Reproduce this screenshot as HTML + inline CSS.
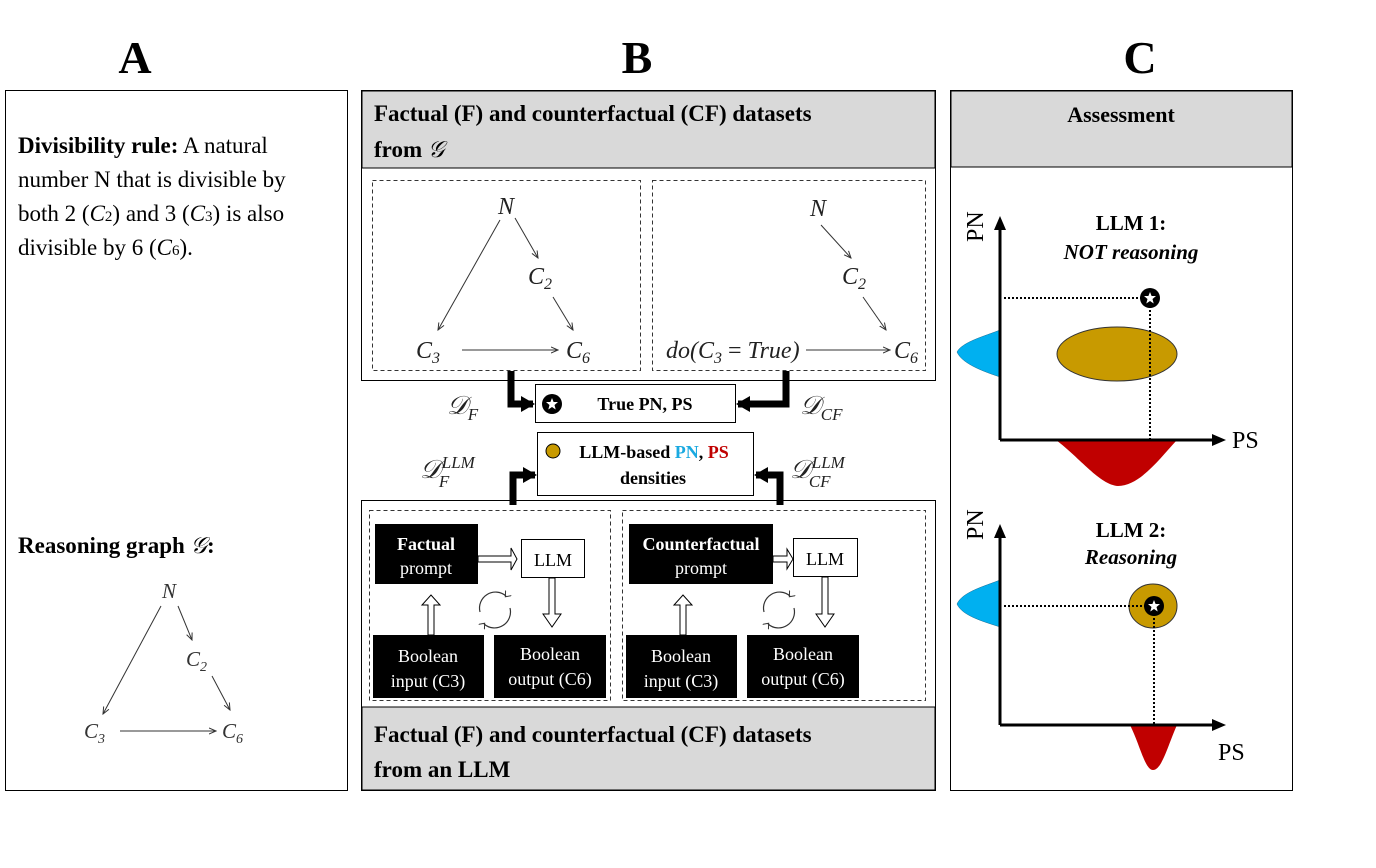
<!DOCTYPE html>
<html><head><meta charset="utf-8"><style>
body{margin:0;background:#fff}
svg text{font-family:"Liberation Serif",serif}
</style></head><body>
<svg width="1376" height="863" viewBox="0 0 1376 863" xmlns="http://www.w3.org/2000/svg">
<defs>
<marker id="a" markerWidth="8" markerHeight="8" refX="7" refY="4" orient="auto" markerUnits="userSpaceOnUse"><path d="M0,1 L7,4 L0,7" fill="none" stroke="#333" stroke-width="1"/></marker>
<marker id="b" markerWidth="16" markerHeight="16" refX="12" refY="8" orient="auto" markerUnits="userSpaceOnUse"><path d="M0,0 L14,8 L0,16 z" fill="#000"/></marker>
<marker id="c" markerWidth="8" markerHeight="8" refX="4" refY="4" orient="auto" markerUnits="userSpaceOnUse"><path d="M0,0 L4,5 L8,0" fill="none" stroke="#333" stroke-width="1"/></marker>
<g id="star"><circle r="10" fill="#000"/><polygon points="0,-6 1.6,-2 6,-2 2.5,1 3.7,5.5 0,3 -3.7,5.5 -2.5,1 -6,-2 -1.6,-2" fill="#fff"/></g>
</defs>
<g font-weight="bold" font-size="46" text-anchor="middle">
<text x="135" y="73">A</text><text x="637" y="73">B</text><text x="1140" y="73">C</text></g>
<!-- Panel A -->
<rect x="5.5" y="90.5" width="342" height="700" fill="none" stroke="#000"/>
<g font-size="23">
<text x="18" y="153"><tspan font-weight="bold">Divisibility rule:</tspan> A natural</text>
<text x="18" y="187">number N that is divisible by</text>
<text x="18" y="221">both 2 (<tspan font-style="italic">C</tspan><tspan font-size="15">2</tspan>) and 3 (<tspan font-style="italic">C</tspan><tspan font-size="15">3</tspan>) is also</text>
<text x="18" y="255">divisible by 6 (<tspan font-style="italic">C</tspan><tspan font-size="15">6</tspan>).</text>
<text x="18" y="553" font-weight="bold">Reasoning graph <tspan font-style="italic" font-weight="normal">𝒢</tspan>:</text>
</g>
<g font-size="21" font-style="italic" fill="#333">
<text x="162" y="598">N</text>
<text x="186" y="666">C<tspan font-size="14" dy="5">2</tspan></text>
<text x="84" y="738">C<tspan font-size="14" dy="5">3</tspan></text>
<text x="222" y="738">C<tspan font-size="14" dy="5">6</tspan></text>
</g>
<g stroke="#333" stroke-width="1" marker-end="url(#a)">
<line x1="178" y1="606" x2="192" y2="640"/><line x1="161" y1="606" x2="103" y2="714"/>
<line x1="212" y1="676" x2="230" y2="710"/><line x1="120" y1="731" x2="216" y2="731"/></g>
<!-- Panel B top -->
<rect x="361.5" y="90.5" width="574" height="290" fill="none" stroke="#000"/>
<rect x="362" y="91" width="573" height="77" fill="#d9d9d9" stroke="#000"/>
<g font-size="23" font-weight="bold"><text x="374" y="121">Factual (F) and counterfactual (CF) datasets</text>
<text x="374" y="157">from <tspan font-style="italic" font-weight="normal">𝒢</tspan></text></g>
<rect x="372.5" y="180.5" width="268" height="190" fill="none" stroke="#333" stroke-dasharray="4,3"/>
<rect x="652.5" y="180.5" width="273" height="190" fill="none" stroke="#333" stroke-dasharray="4,3"/>
<g font-size="24" font-style="italic" fill="#222">
<text x="498" y="214">N</text>
<text x="528" y="284">C<tspan font-size="16" dy="5">2</tspan></text>
<text x="416" y="358">C<tspan font-size="16" dy="5">3</tspan></text>
<text x="566" y="358">C<tspan font-size="16" dy="5">6</tspan></text>
<text x="810" y="216">N</text>
<text x="842" y="284">C<tspan font-size="16" dy="5">2</tspan></text>
<text x="666" y="358">do(C<tspan font-size="16" dy="5">3</tspan><tspan dy="-5" font-style="normal"> = </tspan>True)</text>
<text x="894" y="358">C<tspan font-size="16" dy="5">6</tspan></text>
</g>
<g stroke="#333" stroke-width="1" marker-end="url(#a)">
<line x1="515" y1="218" x2="538" y2="258"/><line x1="500" y1="220" x2="438" y2="330"/>
<line x1="553" y1="297" x2="573" y2="330"/><line x1="462" y1="350" x2="558" y2="350"/>
<line x1="821" y1="225" x2="851" y2="258"/><line x1="863" y1="297" x2="886" y2="330"/>
<line x1="806" y1="350" x2="890" y2="350"/></g>
<!-- thick arrows -->
<g fill="none" stroke="#000" stroke-width="7" marker-end="url(#b)">
<path d="M511,371 V404 H533"/><path d="M786,371 V404 H738"/>
<path d="M513,505 V475 H535"/><path d="M780,505 V475 H756"/></g>
<g font-size="26" font-style="italic" fill="#222">
<text x="447" y="414">𝒟<tspan font-size="17" dy="6">F</tspan></text>
<text x="800" y="414">𝒟<tspan font-size="17" dy="6">CF</tspan></text>
<text x="420" y="478">𝒟<tspan font-size="17" dx="1" dy="-10">LLM</tspan><tspan font-size="17" dx="-36" dy="19">F</tspan></text>
<text x="790" y="478">𝒟<tspan font-size="17" dx="1" dy="-10">LLM</tspan><tspan font-size="17" dx="-36" dy="19">CF</tspan></text>
</g>
<rect x="535.5" y="384.5" width="200" height="38" fill="#fff" stroke="#000"/>
<use href="#star" x="552" y="404"/>
<text x="645" y="410" font-size="18" font-weight="bold" text-anchor="middle">True PN, PS</text>
<rect x="537.5" y="432.5" width="216" height="63" fill="#fff" stroke="#000"/>
<circle cx="553" cy="451" r="7" fill="#c89a00" stroke="#000"/>
<text x="654" y="458" font-size="18" font-weight="bold" text-anchor="middle">LLM-based <tspan fill="#1aa9e0">PN</tspan>, <tspan fill="#c00000">PS</tspan></text>
<text x="620" y="484" font-size="18" font-weight="bold">densities</text>
<!-- Panel B bottom -->
<rect x="361.5" y="500.5" width="574" height="290" fill="none" stroke="#000"/>
<rect x="362" y="707" width="573" height="83" fill="#d9d9d9" stroke="#000"/>
<g font-size="23" font-weight="bold"><text x="374" y="742">Factual (F) and counterfactual (CF) datasets</text>
<text x="374" y="777">from an LLM</text></g>
<rect x="369.5" y="510.5" width="241" height="190" fill="none" stroke="#333" stroke-dasharray="4,3"/>
<rect x="622.5" y="510.5" width="303" height="190" fill="none" stroke="#333" stroke-dasharray="4,3"/>
<g fill="#000">
<rect x="375" y="524" width="103" height="60"/><rect x="373" y="635" width="111" height="63"/><rect x="494" y="635" width="112" height="63"/>
<rect x="629" y="524" width="144" height="60"/><rect x="626" y="635" width="111" height="63"/><rect x="747" y="635" width="112" height="63"/></g>
<rect x="521.5" y="539.5" width="63" height="38" fill="#fff" stroke="#000"/>
<rect x="793.5" y="538.5" width="64" height="38" fill="#fff" stroke="#000"/>
<g fill="#fff" stroke="#000" stroke-width="1">
<path d="M478,556 H511 V548 L517,559 L511,570 V562 H478 z"/>
<path d="M773,556 H787 V549 L793,559 L787,569 V562 H773 z"/>
<path d="M428,635 V605 H422 L431,595 L440,605 H434 V635 z"/>
<path d="M680,635 V605 H674 L683,595 L692,605 H686 V635 z"/>
<path d="M549,578 V614 H543 L552,627 L561,614 H555 V578 z"/>
<path d="M822,577 V614 H816 L825,627 L834,614 H828 V577 z"/></g>
<g fill="none" stroke="#333" stroke-width="1.2" marker-end="url(#c)">
<path d="M480,612 A16,16 0 0 1 506,596"/><path d="M510,608 A16,16 0 0 1 484,624"/>
<path d="M764,612 A16,16 0 0 1 790,596"/><path d="M794,608 A16,16 0 0 1 768,624"/></g>
<g font-size="18" fill="#fff" text-anchor="middle">
<text x="426" y="550" font-weight="bold">Factual</text><text x="426" y="574">prompt</text>
<text x="701" y="550" font-weight="bold">Counterfactual</text><text x="701" y="574">prompt</text>
<text x="428" y="662">Boolean</text><text x="428" y="687">input (C3)</text>
<text x="550" y="660">Boolean</text><text x="550" y="685">output (C6)</text>
<text x="681" y="662">Boolean</text><text x="681" y="687">input (C3)</text>
<text x="803" y="660">Boolean</text><text x="803" y="685">output (C6)</text></g>
<g font-size="18" text-anchor="middle"><text x="553" y="566">LLM</text><text x="825" y="565">LLM</text></g>
<!-- Panel C -->
<rect x="950.5" y="90.5" width="342" height="700" fill="none" stroke="#000"/>
<rect x="951" y="91" width="341" height="76" fill="#d9d9d9" stroke="#000"/>
<text x="1121" y="122" font-size="22" font-weight="bold" text-anchor="middle">Assessment</text>
<g font-size="21" font-weight="bold" text-anchor="middle">
<text x="1131" y="230">LLM 1:</text><text x="1131" y="259" font-style="italic">NOT reasoning</text>
<text x="1131" y="537">LLM 2:</text><text x="1131" y="564" font-style="italic">Reasoning</text></g>
<path d="M1000,330 C985,336 962,342 957,352 C962,364 985,372 1000,377 z" fill="#00b0f0" stroke="#1a6a90" stroke-width="0.5"/>
<path d="M1000,580 C985,586 962,592 957,604 C962,616 985,622 1000,627 z" fill="#00b0f0" stroke="#1a6a90" stroke-width="0.5"/>
<path d="M1056,440 C1080,458 1100,485 1118,486 C1140,486 1160,458 1177,440 z" fill="#c00000"/>
<path d="M1130,725 C1140,745 1145,770 1153,770 C1162,770 1168,745 1177,725 z" fill="#c00000"/>
<ellipse cx="1117" cy="354" rx="60" ry="27" fill="#c89a00" stroke="#333"/>
<ellipse cx="1153" cy="606" rx="24" ry="22" fill="#c89a00" stroke="#333"/>
<g stroke="#000" stroke-width="2" stroke-dasharray="2,2" fill="none">
<path d="M1004,298 H1145 M1150,298 V440"/><path d="M1004,606 H1145 M1154,606 V725"/></g>
<use href="#star" x="1150" y="298"/><use href="#star" x="1154" y="606"/>
<g stroke="#000" stroke-width="3" fill="none">
<path d="M1000,440 V226"/><path d="M1000,440 H1214"/>
<path d="M1000,725 V534"/><path d="M1000,725 H1214"/></g>
<g fill="#000"><path d="M994,230 L1000,216 L1006,230 z"/><path d="M994,538 L1000,524 L1006,538 z"/>
<path d="M1212,434 L1226,440 L1212,446 z"/><path d="M1212,719 L1226,725 L1212,731 z"/></g>
<g font-size="24">
<text x="1232" y="448">PS</text><text x="1218" y="760">PS</text>
<text transform="translate(983,242) rotate(-90)">PN</text>
<text transform="translate(983,540) rotate(-90)">PN</text></g>
</svg>
</body></html>
